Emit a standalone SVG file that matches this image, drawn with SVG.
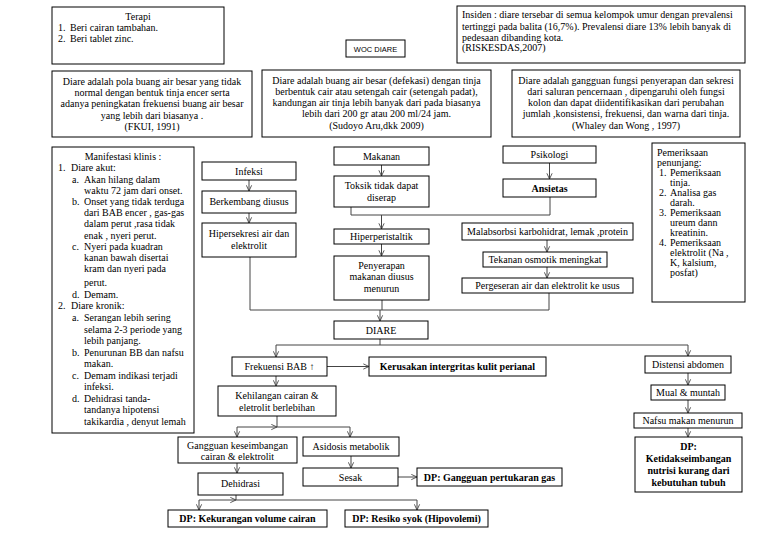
<svg xmlns="http://www.w3.org/2000/svg" width="768" height="543" viewBox="0 0 768 543" font-family="'Liberation Serif','Times New Roman',serif">
<defs>
<style>
.b{fill:#fff;stroke:#000;stroke-width:1}
text{font-family:"Liberation Serif","Times New Roman",serif;font-size:10px;fill:#000}
.c{text-anchor:middle}
.bd{font-weight:bold}
.s{font-family:"Liberation Sans",Arial,sans-serif;font-size:7.5px}
.ln{fill:none;stroke:#444;stroke-width:1}
.ar{fill:none;stroke:#444;stroke-width:1;marker-end:url(#ah)}
</style>
<marker id="ah" viewBox="0 0 8 8" refX="7.5" refY="4" markerWidth="7" markerHeight="7" markerUnits="userSpaceOnUse" orient="auto">
<path d="M1,1 L7.5,4 L1,7" fill="none" stroke="#444" stroke-width="1"/>
</marker>
</defs>
<rect width="768" height="543" fill="#fff"/>

<g id="terapi">
<rect class="b" x="52" y="7" width="172" height="57"/>
<text class="c" x="138" y="20">Terapi</text>
<text x="58" y="31">1.</text><text x="70" y="31">Beri cairan tambahan.</text>
<text x="58" y="42">2.</text><text x="70" y="42">Beri tablet zinc.</text>
</g>

<g id="woc">
<rect class="b" x="346" y="40" width="59" height="17"/>
<text class="c s" x="375.5" y="51.5">WOC DIARE</text>
</g>

<g id="insiden">
<rect class="b" x="457" y="6" width="288" height="57"/>
<text x="462" y="18">Insiden : diare tersebar di semua kelompok umur dengan prevalensi</text>
<text x="462" y="30">tertinggi pada balita (16,7%). Prevalensi diare 13% lebih banyak di</text>
<text x="462" y="41">pedesaan dibanding kota.</text>
<text x="462" y="51">(RISKESDAS,2007)</text>
</g>

<g id="def-fkui">
<rect class="b" x="52" y="71" width="200" height="66"/>
<text class="c" x="152" y="85">Diare adalah pola buang air besar yang tidak</text>
<text class="c" x="152" y="96">normal dengan bentuk tinja encer serta</text>
<text class="c" x="152" y="107">adanya peningkatan frekuensi buang air besar</text>
<text class="c" x="152" y="119">yang lebih dari biasanya .</text>
<text class="c" x="152" y="130">(FKUI, 1991)</text>
</g>

<g id="def-sudoyo">
<rect class="b" x="262" y="70" width="229" height="67"/>
<text class="c" x="376.5" y="84">Diare adalah buang air besar (defekasi) dengan tinja</text>
<text class="c" x="376.5" y="95">berbentuk cair atau setengah cair (setengah padat),</text>
<text class="c" x="376.5" y="106">kandungan air tinja lebih banyak dari pada biasanya</text>
<text class="c" x="376.5" y="117">lebih dari 200 gr atau 200 ml/24 jam.</text>
<text class="c" x="376.5" y="129">(Sudoyo Aru,dkk 2009)</text>
</g>

<g id="def-whaley">
<rect class="b" x="512" y="70" width="228" height="67"/>
<text class="c" x="626" y="84">Diare adalah gangguan fungsi penyerapan dan sekresi</text>
<text class="c" x="626" y="95">dari saluran pencernaan , dipengaruhi oleh fungsi</text>
<text class="c" x="626" y="106">kolon dan dapat diidentifikasikan dari perubahan</text>
<text class="c" x="626" y="117">jumlah ,konsistensi, frekuensi, dan warna dari tinja.</text>
<text class="c" x="626" y="129">(Whaley dan Wong , 1997)</text>
</g>

<g id="manifestasi">
<rect class="b" x="52" y="147" width="142" height="286"/>
<text class="c" x="123" y="160">Manifestasi klinis :</text>
<text x="58" y="171">1.</text><text x="71" y="171">Diare akut:</text>
<text x="72" y="183">a.</text><text x="84" y="183">Akan hilang dalam</text>
<text x="84" y="194">waktu 72 jam dari onset.</text>
<text x="72" y="205">b.</text><text x="84" y="205">Onset yang tidak terduga</text>
<text x="84" y="216">dari BAB encer , gas-gas</text>
<text x="84" y="227">dalam perut ,rasa tidak</text>
<text x="84" y="239">enak , nyeri perut.</text>
<text x="72" y="250">c.</text><text x="84" y="250">Nyeri pada kuadran</text>
<text x="84" y="261">kanan bawah disertai</text>
<text x="84" y="272">kram dan nyeri pada</text>
<text x="84" y="286">perut.</text>
<text x="72" y="298">d.</text><text x="84" y="298">Demam.</text>
<text x="58" y="309">2.</text><text x="71" y="309">Diare kronik:</text>
<text x="72" y="321">a.</text><text x="84" y="321">Serangan lebih sering</text>
<text x="84" y="333">selama 2-3 periode yang</text>
<text x="84" y="344">lebih panjang.</text>
<text x="72" y="356">b.</text><text x="84" y="356">Penurunan BB dan nafsu</text>
<text x="84" y="367">makan.</text>
<text x="72" y="379">c.</text><text x="84" y="379">Demam indikasi terjadi</text>
<text x="84" y="390">infeksi.</text>
<text x="72" y="402">d.</text><text x="84" y="402">Dehidrasi tanda-</text>
<text x="84" y="413">tandanya hipotensi</text>
<text x="84" y="425">takikardia , denyut lemah</text>
</g>

<g id="penunjang">
<rect class="b" x="652" y="143" width="93" height="159"/>
<text x="657" y="156">Pemeriksaan</text>
<text x="657" y="166">penunjang:</text>
<text x="659" y="176">1.</text><text x="670" y="176">Pemeriksaan</text>
<text x="670" y="186">tinja.</text>
<text x="659" y="196">2.</text><text x="670" y="196">Analisa gas</text>
<text x="670" y="206">darah.</text>
<text x="659" y="216">3.</text><text x="670" y="216">Pemeriksaan</text>
<text x="670" y="226">ureum dann</text>
<text x="670" y="236">kreatinin.</text>
<text x="659" y="246">4.</text><text x="670" y="246">Pemeriksaan</text>
<text x="670" y="256">elektrolit (Na ,</text>
<text x="670" y="266">K, kalsium,</text>
<text x="670" y="276">posfat)</text>
</g>

<g id="connectors">
<path class="ar" d="M249,180 V191"/>
<path class="ar" d="M249,213 V223"/>
<path class="ar" d="M381.5,165 V176"/>
<path class="ln" d="M351,207 V215 H550 V197"/>
<path class="ar" d="M381.5,215 V229"/>
<path class="ar" d="M381.5,244 V256"/>
<path class="ar" d="M549.5,163 V179"/>
<path class="ar" d="M547,240 V252"/>
<path class="ar" d="M547,267 V278"/>
<path class="ln" d="M250,257 V310 H549 V293"/>
<path class="ln" d="M382,300 V310"/>
<path class="ar" d="M380,310 V321"/>
<path class="ln" d="M380,339 V345"/>
<path class="ar" d="M276,345 H688 V356"/>
<path class="ar" d="M276,345 V357"/>
<path class="ar" d="M327,366.5 H369"/>
<path class="ar" d="M276,376 V386"/>
<path class="ln" d="M277,416 V427 H350"/>
<path class="ar" d="M237,427 H277"/>
<path class="ar" d="M237,427 V437"/>
<path class="ar" d="M350,427 V437"/>
<path class="ar" d="M351,456 V468"/>
<path class="ar" d="M398,477 H417"/>
<path class="ar" d="M237,463 V473"/>
<path class="ln" d="M236,495 V500 H417"/>
<path class="ar" d="M199,500 H236"/>
<path class="ar" d="M199,500 V510"/>
<path class="ar" d="M417,500 V510"/>
<path class="ar" d="M688,373 V385"/>
<path class="ar" d="M688,400 V413"/>
<path class="ar" d="M688,428 V437"/>
</g>

<g id="infeksi"><rect class="b" x="202" y="162" width="94" height="18"/><text class="c" x="249" y="174.5">Infeksi</text></g>
<g id="berkembang"><rect class="b" x="202" y="191" width="94" height="22"/><text class="c" x="249" y="205">Berkembang diusus</text></g>
<g id="hipersekresi"><rect class="b" x="202" y="223" width="94" height="34"/><text class="c" x="249" y="237">Hipersekresi air dan</text><text class="c" x="249" y="249">elektrolit</text></g>
<g id="makanan"><rect class="b" x="334" y="147" width="95" height="18"/><text class="c" x="381.5" y="159.5">Makanan</text></g>
<g id="toksik"><rect class="b" x="334" y="176" width="95" height="31"/><text class="c" x="381.5" y="189">Toksik tidak dapat</text><text class="c" x="381.5" y="201">diserap</text></g>
<g id="hiperperistaltik"><rect class="b" x="334" y="229" width="95" height="15"/><text class="c" x="381.5" y="240">Hiperperistaltik</text></g>
<g id="penyerapan"><rect class="b" x="334" y="256" width="95" height="44"/><text class="c" x="381.5" y="269">Penyerapan</text><text class="c" x="381.5" y="280">makanan diusus</text><text class="c" x="381.5" y="292">menurun</text></g>
<g id="psikologi"><rect class="b" x="503" y="146" width="93" height="17"/><text class="c" x="549.5" y="158">Psikologi</text></g>
<g id="ansietas"><rect class="b" x="503" y="179" width="93" height="18"/><text class="c bd" x="549.5" y="191.5">Ansietas</text></g>
<g id="malabsorbsi"><rect class="b" x="462" y="223" width="171" height="17"/><text class="c" x="547.5" y="235">Malabsorbsi karbohidrat, lemak ,protein</text></g>
<g id="tekanan"><rect class="b" x="483" y="252" width="124" height="15"/><text class="c" x="545" y="263">Tekanan osmotik meningkat</text></g>
<g id="pergeseran"><rect class="b" x="462" y="278" width="171" height="15"/><text class="c" x="547.5" y="289">Pergeseran air dan elektrolit ke usus</text></g>
<g id="diare"><rect class="b" x="334" y="321" width="94" height="18"/><text class="c" x="381" y="334">DIARE</text></g>
<g id="frekuensi"><rect class="b" x="232" y="357" width="95" height="19"/><text class="c" x="279.5" y="370">Frekuensi BAB ↑</text></g>
<g id="kerusakan"><rect class="b" x="369" y="357" width="177" height="19"/><text class="c bd" x="457.5" y="370">Kerusakan intergritas kulit perianal</text></g>
<g id="kehilangan"><rect class="b" x="218" y="386" width="118" height="30"/><text class="c" x="277" y="398.5">Kehilangan cairan &amp;</text><text class="c" x="277" y="410.5">eletrolit berlebihan</text></g>
<g id="gangguan"><rect class="b" x="178" y="437" width="119" height="26"/><text class="c" x="237.5" y="448.5">Gangguan keseimbangan</text><text class="c" x="237.5" y="460">cairan &amp; elektrolit</text></g>
<g id="asidosis"><rect class="b" x="303" y="437" width="96" height="19"/><text class="c" x="351" y="450">Asidosis metabolik</text></g>
<g id="sesak"><rect class="b" x="303" y="468" width="95" height="18"/><text class="c" x="350.5" y="480.5">Sesak</text></g>
<g id="dp-gas"><rect class="b" x="417" y="468" width="145" height="18"/><text class="c bd" x="489.5" y="480.5">DP: Gangguan pertukaran gas</text></g>
<g id="dehidrasi"><rect class="b" x="198" y="473" width="85" height="22"/><text class="c" x="240.5" y="487">Dehidrasi</text></g>
<g id="dp-volume"><rect class="b" x="168" y="510" width="159" height="17"/><text class="c bd" x="247.5" y="522">DP: Kekurangan volume cairan</text></g>
<g id="dp-syok"><rect class="b" x="345" y="510" width="143" height="17"/><text class="c bd" x="416.5" y="522">DP: Resiko syok (Hipovolemi)</text></g>
<g id="distensi"><rect class="b" x="645" y="356" width="86" height="17"/><text class="c" x="688" y="368">Distensi abdomen</text></g>
<g id="mual"><rect class="b" x="651" y="385" width="74" height="15"/><text class="c" x="688" y="396">Mual &amp; muntah</text></g>
<g id="nafsu"><rect class="b" x="634" y="413" width="108" height="15"/><text class="c" x="688" y="424">Nafsu makan menurun</text></g>
<g id="dp-nutrisi"><rect class="b" x="635" y="437" width="107" height="55"/><text class="c bd" x="688.5" y="450">DP:</text><text class="c bd" x="688.5" y="462">Ketidakseimbangan</text><text class="c bd" x="688.5" y="474">nutrisi kurang dari</text><text class="c bd" x="688.5" y="486">kebutuhan tubuh</text></g>
</svg>
